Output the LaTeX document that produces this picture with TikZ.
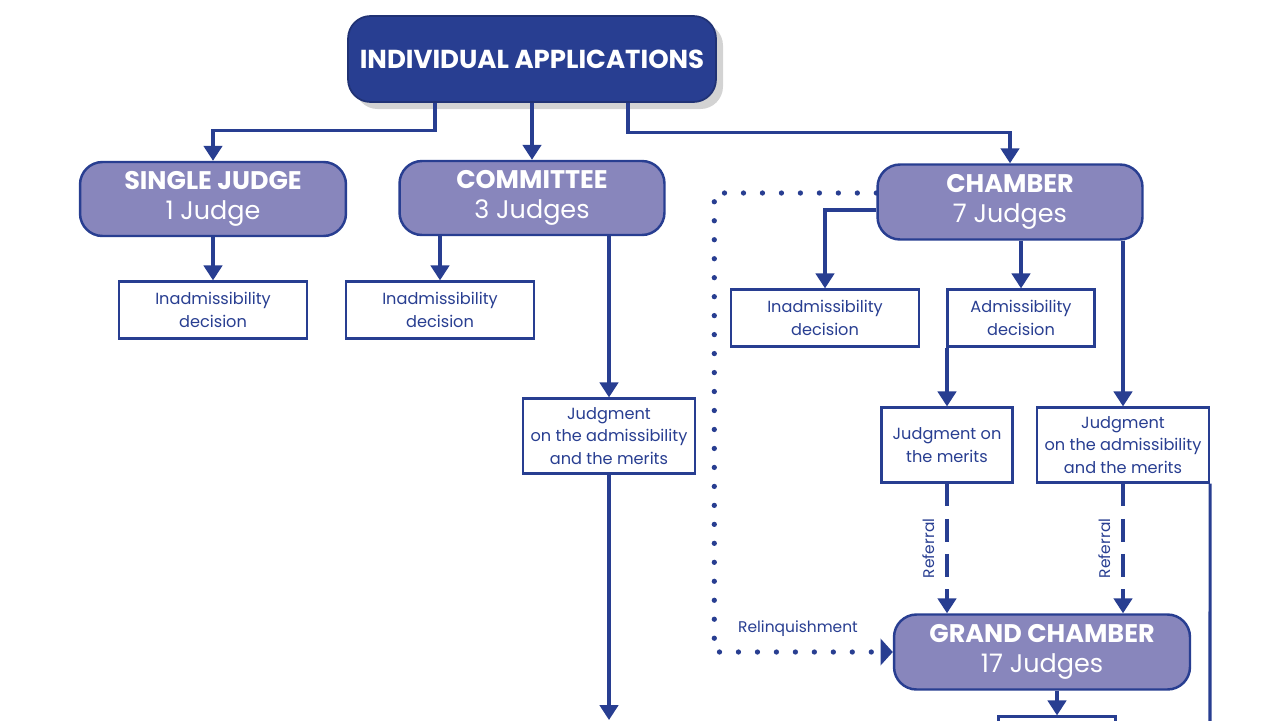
\documentclass[tikz,border=0pt]{standalone}
\usepackage{fontspec}
\setmainfont{Poppins}
\usetikzlibrary{arrows.meta, shadows}

\definecolor{echrblue}{RGB}{40,62,145}
\definecolor{echrlav}{RGB}{136,134,188}

\tikzset{
    titlebox/.style={rectangle, rounded corners=0.45cm, draw=echrblue!80!black, line width=1pt,
        fill=echrblue, text=white, font=\fontsize{14.8}{17}\selectfont\bfseries,
        drop shadow={opacity=0.35, shadow xshift=4pt, shadow yshift=-4pt}},
    formbox/.style={rectangle, rounded corners=0.45cm, draw=echrblue, line width=1.4pt,
        fill=echrlav, text=white, align=center, minimum height=1.48cm, inner sep=1pt,
        font=\fontsize{14.5}{17}\selectfont},
    decbox/.style={rectangle, draw=echrblue, line width=1.3pt, fill=white, text=echrblue,
        align=center, inner sep=1pt, font=\fontsize{9.2}{13}\selectfont},
    link/.style={draw=echrblue, line width=1.8pt, -{Triangle[width=10.5pt,length=8.5pt]}},
    plainlink/.style={draw=echrblue, line width=1.8pt},
    referral/.style={link, dash pattern=on 13pt off 7pt},
    dotlink/.style={draw=echrblue, line width=3pt, line cap=round, dash pattern=on 0pt off 10.8pt,
        -{Triangle[width=15pt,length=7pt, line cap=butt]}},
    sidelabel/.style={text=echrblue, font=\fontsize{8.8}{10}\selectfont}
}

\begin{document}
\begin{tikzpicture}[x=0.02cm, y=-0.02cm]
    \useasboundingbox (0,0) rectangle (1280,720);
    \clip (0,0) rectangle (1280,720);

    % Draw nodes
    \node[titlebox, minimum width=7.36cm, minimum height=1.72cm] (apps) at (532,59) {INDIVIDUAL APPLICATIONS};

    \node[formbox, minimum width=5.32cm] (single) at (213,199) {\textbf{SINGLE JUDGE}\\1 Judge};
    \node[formbox, minimum width=5.30cm] (committee) at (532,198) {\textbf{COMMITTEE}\\3 Judges};
    \node[formbox, minimum width=5.30cm, minimum height=1.50cm] (chamber) at (1010,202) {\textbf{CHAMBER}\\7 Judges};
    \node[formbox, minimum width=5.92cm, minimum height=1.50cm] (grand) at (1042,652) {\textbf{GRAND CHAMBER}\\17 Judges};

    \node[decbox, minimum width=3.76cm, minimum height=1.14cm] (inad1) at (213,310) {Inadmissibility\\decision};
    \node[decbox, minimum width=3.76cm, minimum height=1.14cm] (inad2) at (440,310) {Inadmissibility\\decision};
    \node[decbox, minimum width=3.44cm, minimum height=1.50cm] (judg1) at (609,436) {Judgment\\on the admissibility\\and the merits};
    \node[decbox, minimum width=3.76cm, minimum height=1.14cm] (inad3) at (825,318) {Inadmissibility\\decision};
    \node[decbox, minimum width=2.94cm, minimum height=1.14cm] (admis) at (1021,318) {Admissibility\\decision};
    \node[decbox, minimum width=2.62cm, minimum height=1.50cm] (merits) at (947,445) {Judgment on\\the merits};
    \node[decbox, minimum width=3.44cm, minimum height=1.50cm] (judg2) at (1123,445) {Judgment\\on the admissibility\\and the merits};
    \node[decbox, minimum width=2.34cm, minimum height=1.14cm] (final) at (1057,745) {};

    \coordinate (down1) at (609,720);
    \coordinate (down2) at (1210,730);

    % Draw connections
    \draw[link] ([xshift=-1.94cm]apps.south) -- ++(0,28) -| (single.north);
    \draw[link] (apps.south) -- (committee.north);
    \draw[link] ([xshift=1.92cm]apps.south) -- ++(0,30) -| (chamber.north);

    \draw[link] (single.south) -- (inad1.north);
    \draw[link] (inad2.north |- committee.south) -- (inad2.north);
    \draw[link] (judg1.north |- committee.south) -- (judg1.north);
    \draw[link] (judg1.south) -- (down1);

    \draw[link] ([yshift=-0.16cm]chamber.west) -| (inad3.north);
    \draw[link] (admis.north |- chamber.south) -- (admis.north);
    \draw[link] (judg2.north |- chamber.south) -- (judg2.north);
    \draw[link] (merits.north |- admis.south) -- (merits.north);
    \draw[plainlink] (judg2.south east) -- (down2);

    \draw[referral] (merits.south) -- (merits.south |- grand.north)
        node[midway, rotate=90, anchor=south, yshift=3pt, sidelabel] {Referral};
    \draw[referral] (judg2.south) -- (judg2.south |- grand.north)
        node[midway, rotate=90, anchor=south, yshift=3pt, sidelabel] {Referral};

    \draw[dotlink] ([yshift=0.18cm]chamber.west) -- ++(-162,0) |- (grand.west);
    \node[sidelabel] (relq) at (798,629) {Relinquishment};

    \draw[link] (final.north |- grand.south) -- (final.north);
\end{tikzpicture}
\end{document}
